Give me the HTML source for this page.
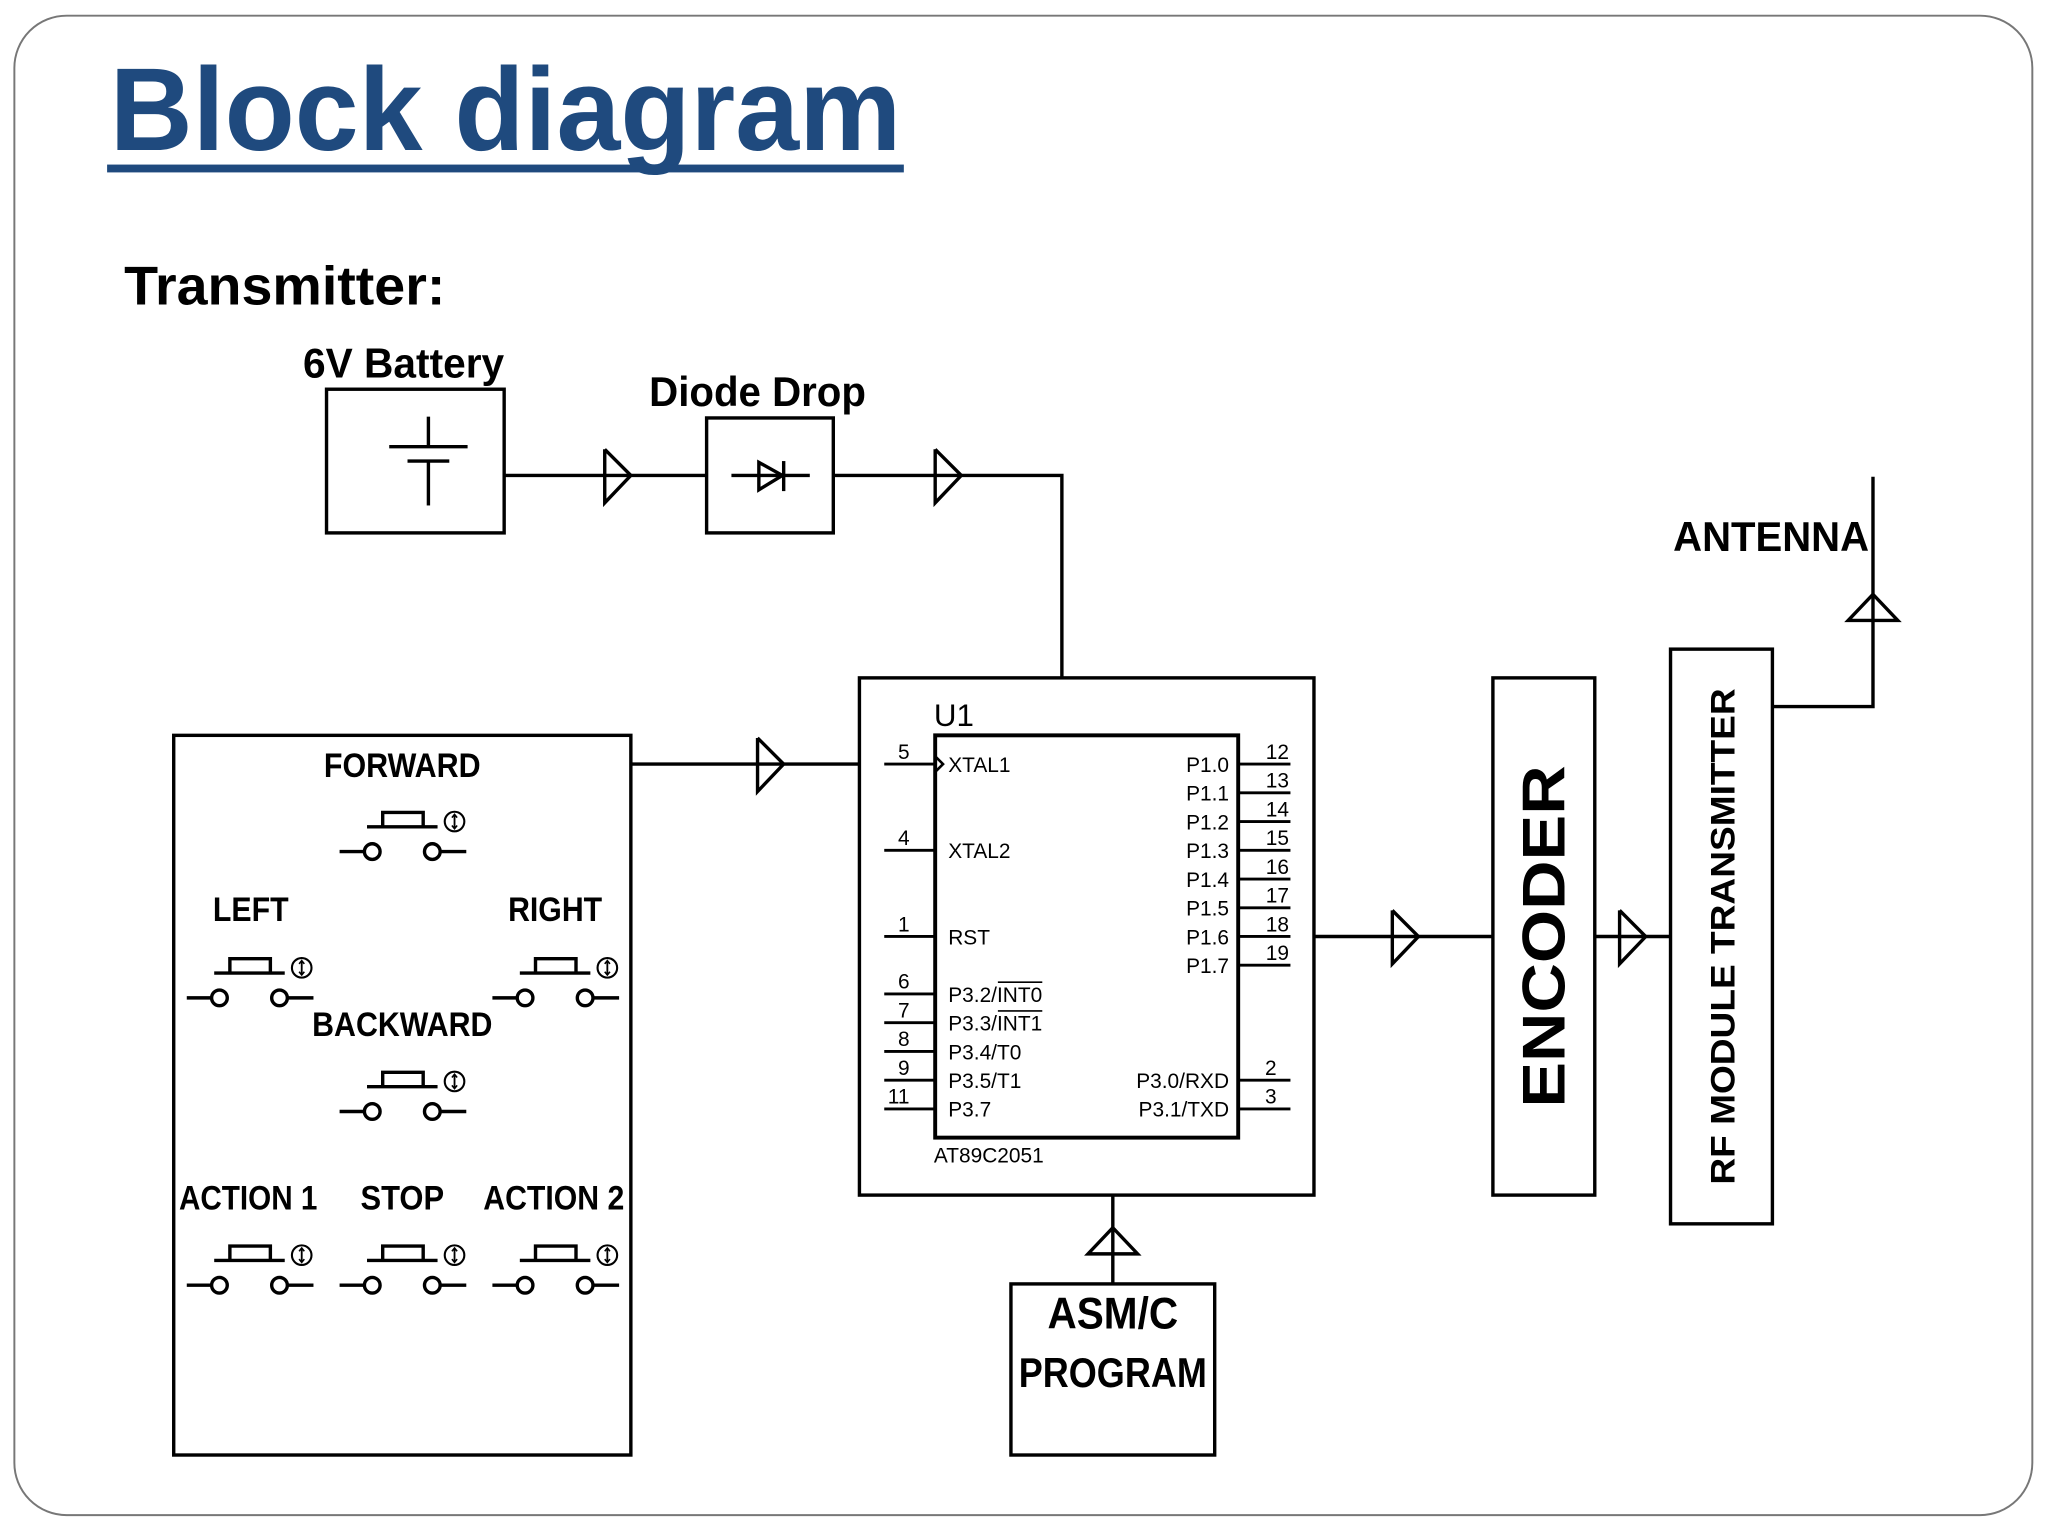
<!DOCTYPE html>
<html><head><meta charset="utf-8"><style>html,body{margin:0;padding:0;background:#fff}svg{display:block}</style></head>
<body>
<svg width="2048" height="1536" viewBox="0 0 1568 1176" xmlns="http://www.w3.org/2000/svg" font-family="Liberation Sans, sans-serif">
<defs>
<g id="sw" stroke="#000" stroke-width="2.6" fill="none">
  <line x1="-27" y1="0" x2="27" y2="0"/>
  <polyline points="-15,0 -15,-11 16,-11 16,0"/>
  <circle cx="40" cy="-4" r="7.5" stroke-width="1.6"/>
  <line x1="40" y1="-9" x2="40" y2="1" stroke-width="1.4"/>
  <polyline points="38,-7 40,-9.5 42,-7" stroke-width="1.2"/>
  <polyline points="38,-1 40,1.5 42,-1" stroke-width="1.2"/>
  <circle cx="-23" cy="19" r="6"/>
  <circle cx="23" cy="19" r="6"/>
  <line x1="-48" y1="19" x2="-29" y2="19"/>
  <line x1="29" y1="19" x2="49" y2="19"/>
</g>
</defs>
<rect x="11" y="12" width="1545" height="1148" rx="40" fill="#fff" stroke="#777" stroke-width="1.5"/>
<text x="84" y="115" font-size="90" font-weight="bold" fill="#1f4a7e" textLength="606" lengthAdjust="spacingAndGlyphs">Block diagram</text>
<rect x="82" y="126" width="610" height="6" fill="#1f4a7e"/>
<text x="95" y="233" font-size="42" font-weight="bold" textLength="246" lengthAdjust="spacingAndGlyphs">Transmitter:</text>

<g stroke="#000" stroke-width="2.6" fill="none">
  <!-- battery -->
  <rect x="250" y="298" width="136" height="110"/>
  <line x1="328" y1="319" x2="328" y2="342"/>
  <line x1="298" y1="342" x2="358" y2="342"/>
  <line x1="312" y1="353" x2="344" y2="353"/>
  <line x1="328" y1="353" x2="328" y2="387"/>
  <line x1="386" y1="364" x2="541" y2="364"/>
  <polyline points="463,344 483,364 463,385 463,344"/>
  <!-- diode -->
  <rect x="541" y="320" width="97" height="88"/>
  <line x1="560" y1="364" x2="620" y2="364"/>
  <polygon points="581,354 599,364 581,375"/>
  <line x1="600" y1="353" x2="600" y2="376"/>
  <polyline points="638,364 813,364 813,519"/>
  <polyline points="716,344 736,364 716,385 716,344"/>
  <!-- U1 -->
  <rect x="658" y="519" width="348" height="396"/>
  <rect x="716" y="563" width="232" height="308" stroke-width="3"/>
  <polyline points="716,579 722,585 716,591" stroke-width="2"/>
  <!-- buttons box -->
  <rect x="133" y="563" width="350" height="551"/>
  <line x1="483" y1="585" x2="658" y2="585"/>
  <polyline points="580,565 600,585 580,606 580,565"/>
  <!-- encoder -->
  <line x1="1006" y1="717" x2="1143" y2="717"/>
  <polyline points="1066,697 1086,717 1066,738 1066,697"/>
  <rect x="1143" y="519" width="78" height="396"/>
  <line x1="1221" y1="717" x2="1279" y2="717"/>
  <polyline points="1240,697 1260,717 1240,738 1240,697"/>
  <rect x="1279" y="497" width="78" height="440"/>
  <polyline points="1357,541 1434,541 1434,365"/>
  <polygon points="1415,475 1434,455 1453,475"/>
  <!-- asm -->
  <line x1="852" y1="915" x2="852" y2="983"/>
  <polygon points="833,960 852,940 871,960"/>
  <rect x="774" y="983" width="156" height="131"/>
</g>
<g stroke="#000" stroke-width="2.2">
  <line x1="677" y1="585" x2="716" y2="585"/><line x1="677" y1="651" x2="716" y2="651"/>
  <line x1="677" y1="717" x2="716" y2="717"/><line x1="677" y1="761" x2="716" y2="761"/>
  <line x1="677" y1="783" x2="716" y2="783"/><line x1="677" y1="805" x2="716" y2="805"/>
  <line x1="677" y1="827" x2="716" y2="827"/><line x1="677" y1="849" x2="716" y2="849"/>
  <line x1="948" y1="585" x2="988" y2="585"/><line x1="948" y1="607" x2="988" y2="607"/>
  <line x1="948" y1="629" x2="988" y2="629"/><line x1="948" y1="651" x2="988" y2="651"/>
  <line x1="948" y1="673" x2="988" y2="673"/><line x1="948" y1="695" x2="988" y2="695"/>
  <line x1="948" y1="717" x2="988" y2="717"/><line x1="948" y1="739" x2="988" y2="739"/>
  <line x1="948" y1="827" x2="988" y2="827"/><line x1="948" y1="849" x2="988" y2="849"/>
</g>
<g font-size="16" fill="#000">
  <text x="715" y="556" font-size="24">U1</text>
  <g text-anchor="middle">
    <text x="692" y="581">5</text><text x="692" y="647">4</text><text x="692" y="713">1</text>
    <text x="692" y="757">6</text><text x="692" y="779">7</text><text x="692" y="801">8</text>
    <text x="692" y="823">9</text><text x="688" y="845">11</text>
    <text x="978" y="581">12</text><text x="978" y="603">13</text><text x="978" y="625">14</text>
    <text x="978" y="647">15</text><text x="978" y="669">16</text><text x="978" y="691">17</text>
    <text x="978" y="713">18</text><text x="978" y="735">19</text>
    <text x="973" y="823">2</text><text x="973" y="845">3</text>
  </g>
  <text x="726" y="591">XTAL1</text><text x="726" y="657">XTAL2</text><text x="726" y="723">RST</text>
  <text x="726" y="767">P3.2/INT0</text><text x="726" y="789">P3.3/INT1</text>
  <text x="726" y="811">P3.4/T0</text><text x="726" y="833">P3.5/T1</text><text x="726" y="855">P3.7</text>
  <g text-anchor="end">
    <text x="941" y="591">P1.0</text><text x="941" y="613">P1.1</text><text x="941" y="635">P1.2</text>
    <text x="941" y="657">P1.3</text><text x="941" y="679">P1.4</text><text x="941" y="701">P1.5</text>
    <text x="941" y="723">P1.6</text><text x="941" y="745">P1.7</text>
    <text x="941" y="833">P3.0/RXD</text><text x="941" y="855">P3.1/TXD</text>
  </g>
  <text x="715" y="890">AT89C2051</text>
</g>
<g stroke="#000" stroke-width="1.2"><line x1="764" y1="752" x2="798" y2="752"/><line x1="764" y1="774" x2="798" y2="774"/></g>

<use href="#sw" x="308" y="633"/>
<use href="#sw" x="191" y="745"/>
<use href="#sw" x="425" y="745"/>
<use href="#sw" x="308" y="832"/>
<use href="#sw" x="191" y="965"/>
<use href="#sw" x="308" y="965"/>
<use href="#sw" x="425" y="965"/>

<g font-weight="bold" fill="#000" text-anchor="middle" font-size="26">
  <text x="308" y="595" textLength="120" lengthAdjust="spacingAndGlyphs">FORWARD</text>
  <text x="192" y="705" textLength="58" lengthAdjust="spacingAndGlyphs">LEFT</text>
  <text x="425" y="705" textLength="72" lengthAdjust="spacingAndGlyphs">RIGHT</text>
  <text x="308" y="793" textLength="138" lengthAdjust="spacingAndGlyphs">BACKWARD</text>
  <text x="190" y="926" textLength="106" lengthAdjust="spacingAndGlyphs">ACTION 1</text>
  <text x="308" y="926" textLength="64" lengthAdjust="spacingAndGlyphs">STOP</text>
  <text x="424" y="926" textLength="108" lengthAdjust="spacingAndGlyphs">ACTION 2</text>
  <text x="852" y="1017" font-size="34" textLength="100" lengthAdjust="spacingAndGlyphs">ASM/C</text>
  <text x="852" y="1062" font-size="32" textLength="144" lengthAdjust="spacingAndGlyphs">PROGRAM</text>
</g>
<g font-weight="bold" fill="#000" font-size="32">
  <text x="232" y="289" textLength="154" lengthAdjust="spacingAndGlyphs">6V Battery</text>
  <text x="497" y="311" textLength="166" lengthAdjust="spacingAndGlyphs">Diode Drop</text>
  <text x="1281" y="422" textLength="150" lengthAdjust="spacingAndGlyphs">ANTENNA</text>
  <text transform="translate(1198,717) rotate(-90)" text-anchor="middle" font-size="46" textLength="262" lengthAdjust="spacingAndGlyphs">ENCODER</text>
  <text transform="translate(1328,717) rotate(-90)" text-anchor="middle" font-size="26" textLength="380" lengthAdjust="spacingAndGlyphs">RF MODULE TRANSMITTER</text>
</g>
</svg>
</body></html>
